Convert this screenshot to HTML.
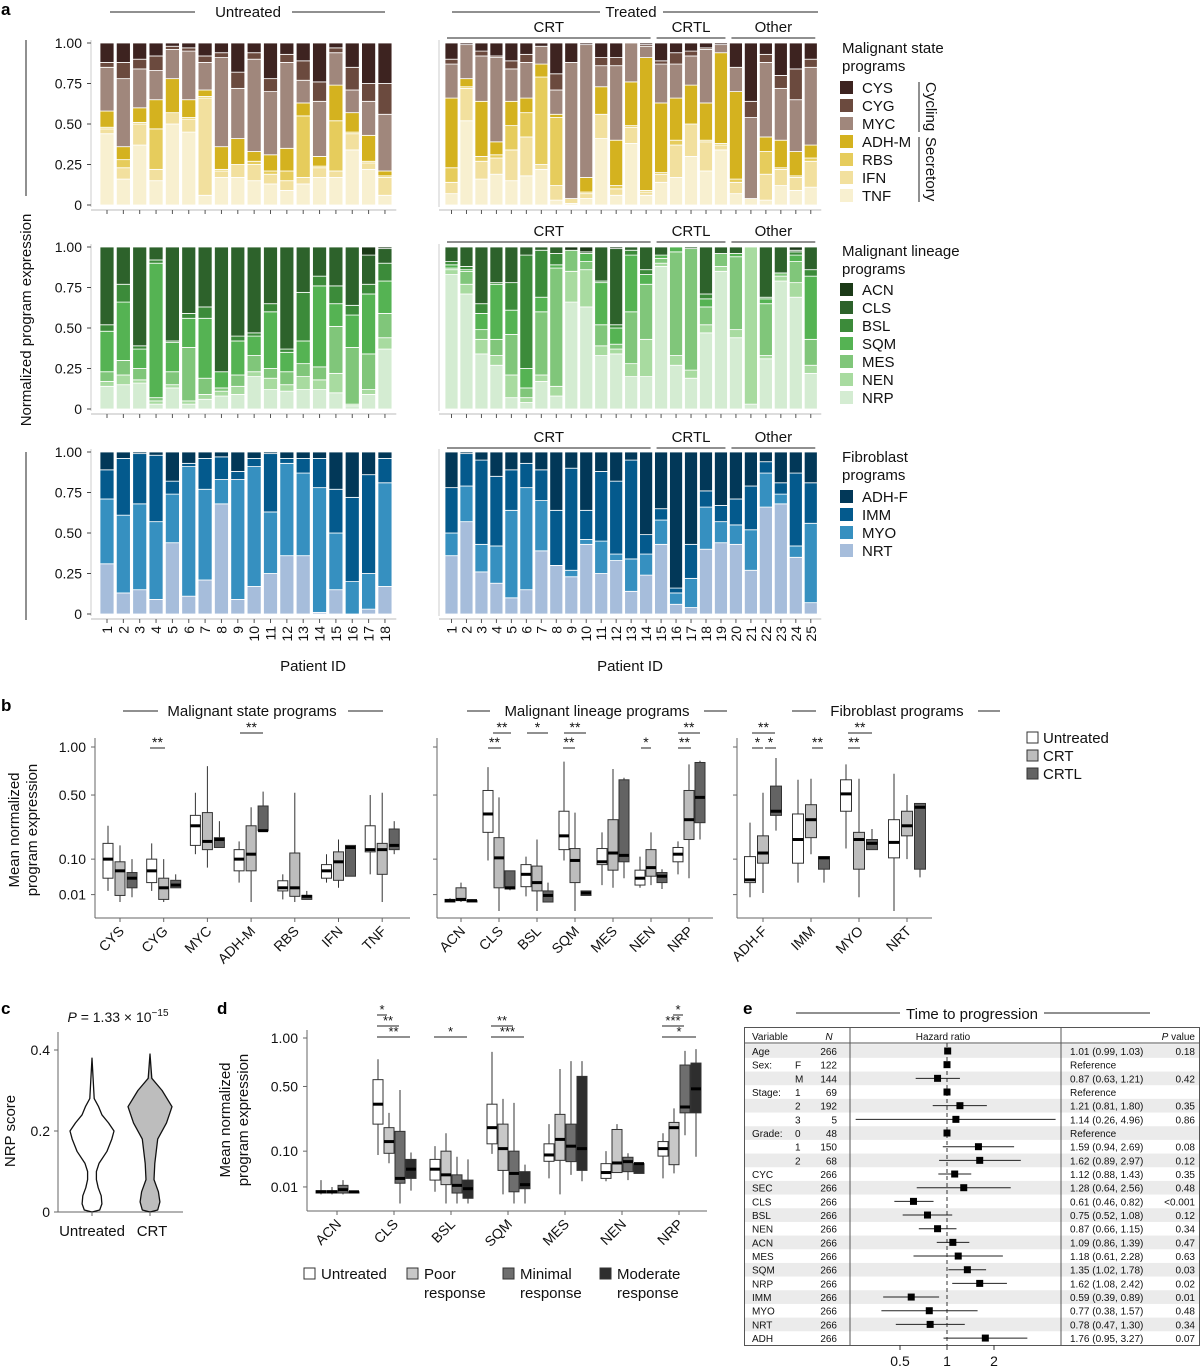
<!DOCTYPE html>
<html><head><meta charset="utf-8"><title>Figure</title>
<style>
html,body{margin:0;padding:0;background:#fff;}
svg{display:block;font-family:"Liberation Sans",Arial,sans-serif;}
</style></head>
<body>
<svg id="fig" xmlns="http://www.w3.org/2000/svg" width="1200" height="1369" viewBox="0 0 1200 1369">
<rect x="0" y="0" width="1200" height="1369" fill="#fff"/>
<g font-weight="bold" font-size="17" fill="#000">
<text x="1" y="15">a</text>
<text x="1" y="711">b</text>
<text x="1" y="1014">c</text>
<text x="217" y="1014">d</text>
<text x="743" y="1014">e</text>
</g>
<g font-size="15" fill="#111" text-anchor="middle">
<text x="248" y="17">Untreated</text>
<text x="631" y="17">Treated</text>
<text x="313" y="671">Patient ID</text>
<text x="630" y="671">Patient ID</text>
<text transform="translate(31,320) rotate(-90)">Normalized program expression</text>
</g>
<g stroke="#222" stroke-width="1">
<line x1="110" y1="12" x2="195" y2="12"/><line x1="292" y1="12" x2="385" y2="12"/>
<line x1="452" y1="12" x2="600" y2="12"/><line x1="663" y1="12" x2="818" y2="12"/>
<line x1="26" y1="40" x2="26" y2="196"/><line x1="26" y1="452" x2="26" y2="620"/>
</g>
</svg>
<script>
const NS='http://www.w3.org/2000/svg';
const svg=document.getElementById('fig');
function mk(tag,attrs,name,parent){
  const e=document.createElementNS(NS,tag);
  for(const k in attrs){e.setAttribute(k,attrs[k]);}
  
  
  (parent||svg).appendChild(e);
  return e;
}
function txt(x,y,s,name,opts){
  const o=Object.assign({x:x,y:y,'font-size':13,fill:'#111'},opts||{});
  const e=mk('text',o,name);
  e.textContent=s;
  return e;
}
function line(x1,y1,x2,y2,name,opts){
  return mk('line',Object.assign({x1:x1,y1:y1,x2:x2,y2:y2,stroke:'#222','stroke-width':1},opts||{}),name);
}

/* ================= Panel a data ================= */
const stateNames=['TNF','IFN','RBS','ADH-M','MYC','CYG','CYS'];
const stateColors=['#f8f0d0','#f2e09e','#e6cc5c','#d4b21f','#a0877c','#6b4a3e','#3d2320'];
const sU_TNF=[.44,.16,.37,.15,.50,.45,.06,.17,.17,.15,.13,.09,.13,.17,.17,.34,.22,.06];
const sU_IFN=[.03,.07,.13,.07,.07,.08,.60,.04,.08,.10,.06,.06,.04,.06,.04,.10,.04,.11];
const sU_RBS=[.01,.05,.01,.25,0,.01,.01,.01,0,.02,.02,.06,.38,.01,.31,.01,.01,.01];
const sU_ADH=[.10,.08,.09,.18,.21,.11,.04,.14,.16,.06,.10,.14,.08,.06,.22,.12,.16,.03];
const sU_MYC=[.27,.42,.24,.18,.18,.30,.17,.55,.31,.57,.39,.53,.14,.34,.20,.14,.21,.35];
const sU_CYG=[.03,.10,.06,.09,.02,.02,.04,.03,.10,.04,.08,.05,.12,.12,.03,.14,.11,.19];
const sU_CYS=[.12,.12,.10,.08,.02,.03,.08,.06,.18,.06,.22,.07,.11,.24,.03,.15,.25,.25];
const sT_TNF=[.07,.52,.16,.19,.15,.18,.22,.03,.01,.04,.41,.06,.38,.06,.14,.17,.30,.21,.34,.07,.04,.03,.12,.09,.11];
const sT_IFN=[.07,.20,.11,.10,.19,.24,.03,.09,.03,.03,.15,.04,.10,.02,.05,.20,.20,.18,.03,.07,0,.16,.10,.08,.16];
const sT_RBS=[.09,.01,.03,.02,.15,.15,.54,.42,0,.01,0,.02,.01,.01,.01,.03,0,.01,.01,.02,0,.14,.01,.01,.02];
const sT_ADH=[.43,.05,.34,.08,.15,.09,.08,.02,0,.09,.17,.28,.27,.82,.43,.26,.24,.23,.56,.54,0,.09,.17,.15,.08];
const sT_MYC=[.21,.21,.28,.52,.20,.22,.11,.15,.84,.82,.13,.46,.24,.07,.24,.21,.18,.33,.05,.15,.50,.46,.32,.32,.48];
const sT_CYG=[.03,0,.03,.01,.05,.05,0,.10,0,0,.05,.05,0,.01,.02,.07,.03,.01,0,0,.10,.05,.08,.19,.05];
const sT_CYS=[.10,.01,.05,.08,.11,.07,.02,.19,.12,.01,.09,.09,0,.01,.11,.06,.05,.03,.01,.15,.36,.07,.20,.16,.10];

const linNames=['NRP','NEN','MES','SQM','BSL','CLS','ACN'];
const linColors=['#d4ecd2','#a8dba0','#80c67a','#55b353','#3c8b3a','#2d622b','#1b3a17'];
const lU_NRP=[.14,.15,.16,.03,.13,.03,.06,.08,.09,.20,.12,.11,.12,.12,.10,.02,.09,.37];
const lU_NEN=[.03,.06,.02,.02,.02,.02,.03,.03,.05,.03,.07,.04,.08,.06,.12,.01,.03,.07];
const lU_MES=[.06,.09,.07,.02,.08,.33,.10,.02,.07,.10,.06,.08,.08,.08,.29,.35,.22,.15];
const lU_SQM=[.25,.36,.12,.83,.18,.18,.37,.10,.21,.12,.35,.12,.14,.50,.14,.20,.37,.20];
const lU_BSL=[.04,.11,.02,.02,.01,.03,.07,0,.03,.02,.05,.02,.30,.06,.11,.06,.06,.11];
const lU_CLS=[.48,.23,.61,.08,.58,.41,.37,.77,.55,.53,.35,.63,.28,.18,.24,.36,.18,.09];
const lU_ACN=[0,0,0,0,0,0,0,0,0,0,0,0,0,0,0,0,.05,.01];
const lT_NRP=[.83,.71,.34,.27,.07,.04,.17,.08,.66,.63,.33,.34,.20,.20,.88,.27,.19,.47,.85,.44,.03,.31,.79,.69,.22];
const lT_NEN=[.03,.06,.09,.06,.14,.03,.04,.06,.19,.23,.06,.03,.08,.23,.02,.06,.05,.05,.03,.05,.97,.02,.03,.09,.05];
const lT_MES=[.01,.08,.06,.10,.25,.06,.39,.73,.13,.05,.13,.03,.32,.34,.03,.64,.75,.11,.08,.45,0,.32,.02,.13,.16];
const lT_SQM=[.02,.01,.10,.34,.15,.12,.09,.02,0,.05,.26,.10,.35,.06,.02,.03,0,.05,0,.02,0,.03,0,.04,.39];
const lT_BSL=[.02,.02,.06,.01,.17,.70,.29,.07,0,0,.01,.02,.03,.03,0,0,0,.03,0,0,0,.01,0,.02,.04];
const lT_CLS=[.09,.12,.35,.22,.22,.05,.02,.04,0,.01,.21,.47,.02,.14,.05,0,.01,.29,.04,.04,0,.31,.16,.01,.14];
const lT_ACN=[0,0,0,0,0,0,0,0,.02,.03,0,.01,0,0,0,0,0,0,0,0,0,0,0,.02,0];

const fibNames=['NRT','MYO','IMM','ADH-F'];
const fibColors=['#a6bddb','#3690c0','#045a8d','#023858'];
const fU_NRT=[.31,.13,.15,.09,.44,.11,.21,.68,.09,.17,.25,.36,.36,.01,.15,0,.03,.17];
const fU_MYO=[.40,.48,.53,.48,.30,.80,.56,.15,.74,.74,.38,.57,.51,.77,.35,.20,.22,.64];
const fU_IMM=[.18,.35,.31,.41,.08,.02,.19,.14,.05,.05,.36,.03,.09,.18,.27,.52,.61,.15];
const fU_ADH=[.11,.04,.01,.02,.18,.07,.04,.03,.12,.04,.01,.04,.04,.04,.23,.28,.14,.04];
const fT_NRT=[.36,.57,.26,.19,.10,.15,.39,.30,.23,.43,.25,.33,.14,.24,.43,.06,.04,.40,.44,.43,.27,.66,.68,.35,.07];
const fT_MYO=[.14,.22,.17,.23,.54,.63,.31,0,.04,.03,.20,.04,.20,.13,.15,.07,.18,.26,.13,.12,.25,.21,.06,.07,.49];
const fT_IMM=[.28,.20,.52,.43,.25,.15,.19,.34,.63,.18,.43,.45,.61,.12,.07,.03,.21,.10,.10,.16,.27,.07,.07,.45,.25];
const fT_ADH=[.22,.01,.05,.15,.11,.07,.11,.36,.10,.36,.12,.18,.05,.51,.35,.84,.57,.24,.33,.29,.21,.06,.19,.13,.19];

const aTickVals=[0,0.25,0.5,0.75,1];
const aTickLabels=['0','0.25','0.50','0.75','1.00'];
const treatGroups=['CRT','CRTL','Other'];
const treatGroupStart=[1,15,20];
const treatGroupEnd=[14,19,25];

function drawStackPanel(series,colors,names,cfg,tag){
  const n=series[0].length;
  const yS=v=>cfg.yBot-(cfg.yBot-cfg.yTop)*v;
  line(cfg.axisX,cfg.yTop-3,cfg.axisX,cfg.yBot+2,tag+'-y-axis',{stroke:'#ccc'});
  line(cfg.axisX,cfg.yBot+5,cfg.x0+n*cfg.pitch+2,cfg.yBot+5,tag+'-x-axis',{stroke:'#bbb'});
  if(cfg.labels){
    aTickVals.forEach((v,i)=>{
      line(cfg.axisX-4,yS(v),cfg.axisX,yS(v),tag+'-y-tick',{stroke:'#444'});
      txt(cfg.axisX-9,yS(v)+5,aTickLabels[i],tag+'-y-tick-label',{'text-anchor':'end','font-size':14});
    });
  }
  for(let i=0;i<n;i++){
    const x=cfg.x0+i*cfg.pitch;
    let cum=0;
    for(let s=0;s<series.length;s++){
      const v=series[s][i];
      if(v<=0){continue;}
      const y1=yS(Math.min(1,cum+v)), y0=yS(Math.min(1,cum));
      mk('rect',{x:x,y:y1,width:cfg.w,height:Math.max(0,y0-y1),fill:colors[s],stroke:'#fff','stroke-width':0.8},tag+'-bar-'+names[s]);
      cum+=v;
    }
    if(cum<1){
      mk('rect',{x:x,y:yS(1),width:cfg.w,height:yS(cum)-yS(1),fill:colors[series.length-1],stroke:'#fff','stroke-width':0.8},tag+'-bar-top');
    }
    line(x+cfg.w/2,cfg.yBot+5,x+cfg.w/2,cfg.yBot+9,tag+'-x-tick',{stroke:'#555'});
  }
}
const leftCfg=(t,b)=>({x0:100,pitch:16.35,w:14,yTop:t,yBot:b,axisX:91,labels:true});
const rightCfg=(t,b)=>({x0:445,pitch:14.97,w:13,yTop:t,yBot:b,axisX:439,labels:false});
drawStackPanel([sU_TNF,sU_IFN,sU_RBS,sU_ADH,sU_MYC,sU_CYG,sU_CYS],stateColors,stateNames,leftCfg(43,205),'state-untreated');
drawStackPanel([sT_TNF,sT_IFN,sT_RBS,sT_ADH,sT_MYC,sT_CYG,sT_CYS],stateColors,stateNames,rightCfg(43,205),'state-treated');
drawStackPanel([lU_NRP,lU_NEN,lU_MES,lU_SQM,lU_BSL,lU_CLS,lU_ACN],linColors,linNames,leftCfg(247,409),'lineage-untreated');
drawStackPanel([lT_NRP,lT_NEN,lT_MES,lT_SQM,lT_BSL,lT_CLS,lT_ACN],linColors,linNames,rightCfg(247,409),'lineage-treated');
drawStackPanel([fU_NRT,fU_MYO,fU_IMM,fU_ADH],fibColors,fibNames,leftCfg(452,614),'fibro-untreated');
drawStackPanel([fT_NRT,fT_MYO,fT_IMM,fT_ADH],fibColors,fibNames,rightCfg(452,614),'fibro-treated');

[38,242,448].forEach(ly=>{
  treatGroups.forEach((g,i)=>{
    const xa=445+(treatGroupStart[i]-1)*14.97+2, xb=445+(treatGroupEnd[i]-1)*14.97+11;
    line(xa,ly,xb,ly,'group-bracket-'+g,{stroke:'#222'});
    txt((xa+xb)/2,ly-6,g,'group-label-'+g,{'text-anchor':'middle','font-size':15});
  });
});
for(let i=0;i<18;i++){
  const x=100+i*16.35+7;
  txt(0,0,String(i+1),'patient-id-label',{transform:'translate('+(x+5)+',626) rotate(-90)','text-anchor':'end','font-size':14});
}
for(let i=0;i<25;i++){
  const x=445+i*14.97+6.5;
  txt(0,0,String(i+1),'patient-id-label',{transform:'translate('+(x+5)+',626) rotate(-90)','text-anchor':'end','font-size':14});
}
function legend(title1,title2,ty,names,colors,y0,tag){
  txt(842,ty,title1,tag+'-title',{'font-size':15});
  txt(842,ty+18,title2,tag+'-title',{'font-size':15});
  for(let i=names.length-1,k=0;i>=0;i--,k++){
    const y=y0+k*18;
    mk('rect',{x:840,y:y-7,width:13,height:13,fill:colors[i]},tag+'-swatch-'+names[i]);
    txt(862,y+5,names[i],tag+'-entry-'+names[i],{'font-size':15});
  }
}
legend('Malignant state','programs',53,stateNames,stateColors,88,'state-legend');
legend('Malignant lineage','programs',256,linNames,linColors,290,'lineage-legend');
legend('Fibroblast','programs',462,fibNames,fibColors,497,'fibro-legend');
line(919,82,919,132,'cycling-bracket');
line(919,137,919,202,'secretory-bracket');
txt(0,0,'Cycling','cycling-label',{transform:'translate(926,82) rotate(90)','font-size':15});
txt(0,0,'Secretory','secretory-label',{transform:'translate(926,137) rotate(90)','font-size':15});

/* ================= Panel b ================= */
const bStateCats=['CYS','CYG','MYC','ADH-M','RBS','IFN','TNF'];
const bStateU=[[.04,.10,.17,.015,.27],[.03,.06,.10,.015,.17],[.16,.27,.34,.12,.52],[.06,.10,.14,.03,.18],[.015,.02,.034,.005,.05],[.04,.06,.08,.03,.12],[.13,.14,.27,.05,.50]];
const bStateCRT=[[.009,.06,.09,.003,.16],[.005,.02,.04,.003,.10],[.14,.18,.36,.07,.78],[.06,.12,.27,.003,.40],[.008,.02,.125,.003,.52],[.035,.09,.13,.02,.19],[.05,.14,.17,.003,.52]];
const bStateCRTL=[[.02,.04,.055,.007,.10],[.02,.025,.035,.02,.05],[.15,.19,.20,.15,.30],[.24,.24,.41,.24,.53],[.005,.008,.009,.005,.015],[.045,.15,.16,.045,.16],[.14,.16,.25,.12,.30]];
const bLinCats=['ACN','CLS','BSL','SQM','MES','NEN','NRP'];
const bLinU=[[.003,.004,.005,.003,.006],[.23,.35,.54,.095,.77],[.022,.05,.08,.008,.11],[.14,.21,.37,.095,.83],[.08,.09,.145,.025,.23],[.025,.04,.062,.02,.11],[.09,.12,.15,.05,.18]];
const bLinCRT=[[.004,.005,.02,.003,.03],[.02,.105,.20,0,.48],[.015,.03,.075,0,.19],[.03,.095,.145,0,.36],[.062,.125,.31,.02,.75],[.045,.07,.14,.025,.23],[.19,.31,.54,.04,.8]];
const bLinCRTL=[[.003,.004,.004,.003,.005],[.018,.02,.06,.016,.06],[.003,.009,.015,.003,.03],[.009,.012,.015,.009,.015],[.09,.115,.64,.04,.66],[.03,.045,.055,.018,.065],[.29,.48,.82,.19,.84]];
const bFibCats=['ADH-F','IMM','MYO','NRT'];
const bFibU=[[.03,.036,.11,.007,.29],[.085,.19,.35,.03,.64],[.37,.51,.64,.145,.8],[.105,.175,.31,0,.7]];
const bFibCRT=[[.085,.125,.21,.012,.52],[.2,.31,.42,.12,.65],[.065,.19,.23,.007,.65],[.21,.27,.37,.1,.5]];
const bFibCRTL=[[.34,.37,.58,.24,.87],[.065,.105,.11,.03,.11],[.14,.17,.19,.14,.25],[.065,.40,.43,.042,.43]];
const bTickVals=[1.0,0.5,0.1,0.01];
const bTickLabels=['1.00','0.50','0.10','0.01'];
const yB=v=>747+(1-Math.sqrt(v))*164;
const yD=v=>1038+(1-Math.sqrt(v))*165.5;

function drawBox(st,cx,w,fill,yf,name){
  line(cx,yf(st[3]),cx,yf(st[4]),name+'-whisker',{stroke:'#333'});
  const t=yf(st[2]),b=yf(st[0]);
  mk('rect',{x:cx-w/2,y:t,width:w,height:Math.max(1,b-t),fill:fill,stroke:'#333','stroke-width':1},name+'-box');
  line(cx-w/2,yf(st[1]),cx+w/2,yf(st[1]),name+'-median',{stroke:'#000','stroke-width':3});
}
function boxPanel(cfg){
  line(cfg.x0,cfg.yTop,cfg.x0,cfg.yBot,cfg.tag+'-y-axis',{stroke:'#666'});
  line(cfg.x0,cfg.yBot,cfg.x1,cfg.yBot,cfg.tag+'-x-axis',{stroke:'#666'});
  cfg.ticks.forEach((v,i)=>{
    line(cfg.x0-4,cfg.yf(v),cfg.x0,cfg.yf(v),cfg.tag+'-y-tick',{stroke:'#666'});
    if(cfg.labels){txt(cfg.x0-9,cfg.yf(v)+5,cfg.labels[i],cfg.tag+'-y-tick-label',{'text-anchor':'end','font-size':14});}
  });
  cfg.cats.forEach((c,i)=>{
    const cx=cfg.cx0+i*cfg.step;
    line(cx,cfg.yBot,cx,cfg.yBot+4,cfg.tag+'-x-tick',{stroke:'#666'});
    cfg.groups.forEach((g,j)=>{drawBox(g[i],cx+cfg.offs[j],cfg.w,cfg.fills[j],cfg.yf,cfg.tag+'-'+c+'-'+cfg.gnames[j]);});
    txt(0,0,c,cfg.tag+'-category-label',{transform:'translate('+(cx+5)+','+(cfg.yBot+14)+') rotate(-45)','text-anchor':'end','font-size':14});
  });
}
const bFills=['#fff','#bdbdbd','#636363'];
const bGN=['untreated','crt','crtl'];
boxPanel({tag:'b-state',x0:95,x1:410,yTop:738,yBot:918,yf:yB,ticks:bTickVals,labels:bTickLabels,cats:bStateCats,cx0:120,step:43.7,offs:[-12,0,12],w:10,groups:[bStateU,bStateCRT,bStateCRTL],fills:bFills,gnames:bGN});
boxPanel({tag:'b-lineage',x0:437,x1:713,yTop:738,yBot:918,yf:yB,ticks:bTickVals,cats:bLinCats,cx0:461,step:38,offs:[-11,0,11],w:10,groups:[bLinU,bLinCRT,bLinCRTL],fills:bFills,gnames:bGN});
boxPanel({tag:'b-fibro',x0:737,x1:932,yTop:738,yBot:918,yf:yB,ticks:bTickVals,cats:bFibCats,cx0:763,step:48,offs:[-13,0,13],w:11,groups:[bFibU,bFibCRT,bFibCRTL],fills:bFills,gnames:bGN});
txt(0,0,'Mean normalized','b-y-axis-title',{transform:'translate(19,830) rotate(-90)','text-anchor':'middle','font-size':15});
txt(0,0,'program expression','b-y-axis-title',{transform:'translate(37,830) rotate(-90)','text-anchor':'middle','font-size':15});
[['Malignant state programs',252,123,158,348,383],['Malignant lineage programs',597,467,490,704,727],['Fibroblast programs',897,792,816,978,1000]].forEach(a=>{
  txt(a[1],716,a[0],'b-section-title',{'text-anchor':'middle','font-size':15});
  line(a[2],711,a[3],711,'b-section-line');line(a[4],711,a[5],711,'b-section-line');
});
const bSigX1=[150,240,493,488,527,564,563,641,678,678,752,752,765,812,848,848];
const bSigX2=[165,263,511,501,548,586,575,651,700,691,775,763,776,823,872,860];
const bSigY=[748,733,733,748,733,733,748,748,733,748,733,748,748,748,733,748];
const bSigT=['**','**','**','**','*','**','**','*','**','**','**','*','*','**','**','**'];
bSigT.forEach((s,i)=>{
  line(bSigX1[i],bSigY[i],bSigX2[i],bSigY[i],'b-significance-bar');
  txt((bSigX1[i]+bSigX2[i])/2,bSigY[i]-1,s,'b-significance-stars',{'text-anchor':'middle','font-size':14});
});
['Untreated','CRT','CRTL'].forEach((s,i)=>{
  mk('rect',{x:1027,y:732+i*18,width:11,height:11,fill:bFills[i],stroke:'#333'},'b-legend-swatch-'+s);
  txt(1043,743+i*18,s,'b-legend-entry-'+s,{'font-size':15});
});

/* ================= Panel c ================= */
const cUy=[0,.005,.02,.04,.06,.08,.10,.12,.15,.18,.20,.22,.24,.26,.28,.33,.38];
const cUd=[0,.35,.45,.42,.28,.2,.2,.32,.68,.9,1,.75,.45,.3,.1,.05,0];
const cCy=[0,.005,.025,.05,.08,.12,.18,.22,.26,.30,.33,.39];
const cCd=[0,.35,.45,.38,.18,.22,.35,.75,1,.55,.08,0];
const cTickVals=[0,0.2,0.4];
const cTickLabels=['0','0.2','0.4'];
const yC=v=>1212-v*405;
line(58,1032,58,1212,'c-y-axis',{stroke:'#666'});
line(58,1212,183,1212,'c-x-axis',{stroke:'#666'});
cTickVals.forEach((v,i)=>{line(54,yC(v),58,yC(v),'c-y-tick',{stroke:'#666'});txt(50,yC(v)+5,cTickLabels[i],'c-y-tick-label',{'text-anchor':'end','font-size':14});});
function violin(ys,ds,cx,fill,name){
  let p='';
  ys.forEach((y,i)=>{p+=(i?'L':'M')+(cx+ds[i]*22).toFixed(1)+','+yC(y).toFixed(1);});
  for(let i=ys.length-1;i>=0;i--){p+='L'+(cx-ds[i]*22).toFixed(1)+','+yC(ys[i]).toFixed(1);}
  mk('path',{d:p+'Z',fill:fill,stroke:'#111','stroke-width':1.3,'stroke-linejoin':'round'},name);
  line(cx,1212,cx,1216,'c-x-tick',{stroke:'#666'});
}
violin(cUy,cUd,92,'#fff','c-violin-untreated');
violin(cCy,cCd,150,'#bdbdbd','c-violin-crt');
txt(92,1236,'Untreated','c-x-label-untreated',{'text-anchor':'middle','font-size':15});
txt(152,1236,'CRT','c-x-label-crt',{'text-anchor':'middle','font-size':15});
txt(0,0,'NRP score','c-y-axis-title',{transform:'translate(15,1131) rotate(-90)','text-anchor':'middle','font-size':15});
const pt=txt(118,1022,'','c-p-value',{'text-anchor':'middle','font-size':14});
pt.innerHTML='<tspan font-style="italic">P</tspan> = 1.33 × 10<tspan dy="-6" font-size="10">−15</tspan>';

/* ================= Panel d ================= */
const dCats=['ACN','CLS','BSL','SQM','MES','NEN','NRP'];
const dU=[[.004,.005,.006,.003,.02],[.23,.36,.56,.086,.76],[.02,.043,.071,.005,.12],[.13,.21,.36,.09,.84],[.065,.086,.13,.023,.23],[.023,.035,.058,.018,.1],[.082,.11,.14,.023,.18]];
const dPoor=[[.004,.005,.006,.003,.01],[.092,.14,.21,.059,.30],[.013,.03,.10,0,.18],[.04,.11,.23,.003,.40],[.068,.15,.29,.003,.66],[.035,.06,.20,.035,.23],[.055,.21,.24,.033,.33]];
const dMin=[[.004,.007,.012,.003,.02],[.015,.023,.19,0,.47],[.004,.012,.03,0,.08],[.005,.033,.10,0,.37],[.064,.12,.23,.03,.74],[.037,.064,.078,.02,.092],[.30,.34,.70,.17,.85]];
const dMod=[[.004,.005,.005,.004,.005],[.023,.043,.071,.006,.095],[.001,.008,.02,0,.071],[.008,.013,.037,0,.055],[.04,.11,.59,.018,.74],[.033,.058,.058,.033,.058],[.30,.48,.72,.08,.87]];
const dFills=['#fff','#c8c8c8','#6e6e6e','#2e2e2e'];
boxPanel({tag:'d',x0:307,x1:707,yTop:1030,yBot:1211,yf:yD,ticks:bTickVals,labels:bTickLabels,cats:dCats,cx0:337,step:57,offs:[-16,-5,6,17],w:10,groups:[dU,dPoor,dMin,dMod],fills:dFills,gnames:['untreated','poor','minimal','moderate']});
txt(0,0,'Mean normalized','d-y-axis-title',{transform:'translate(230,1120) rotate(-90)','text-anchor':'middle','font-size':15});
txt(0,0,'program expression','d-y-axis-title',{transform:'translate(248,1120) rotate(-90)','text-anchor':'middle','font-size':15});
const dSigX1=[377,377,377,434,491,491,673,662,662];
const dSigX2=[387,399,410,467,513,524,683,684,696];
const dSigY=[1015,1026,1037,1037,1026,1037,1015,1026,1037];
const dSigT=['*','**','**','*','**','***','*','***','*'];
dSigT.forEach((s,i)=>{
  line(dSigX1[i],dSigY[i],dSigX2[i],dSigY[i],'d-significance-bar');
  txt((dSigX1[i]+dSigX2[i])/2,dSigY[i]-1,s,'d-significance-stars',{'text-anchor':'middle','font-size':13});
});
const dLegX=[304,407,503,600];
const dLeg1=['Untreated','Poor','Minimal','Moderate'];
const dLeg2=['','response','response','response'];
dLeg1.forEach((s,i)=>{
  mk('rect',{x:dLegX[i],y:1268,width:11,height:11,fill:dFills[i],stroke:'#333'},'d-legend-swatch-'+s);
  txt(dLegX[i]+17,1279,s,'d-legend-entry',{'font-size':15});
  if(dLeg2[i]){txt(dLegX[i]+17,1298,dLeg2[i],'d-legend-entry',{'font-size':15});}
});

/* ================= Panel e ================= */
const eVar=['Age','Sex:','','Stage:','','','Grade:','','','CYC','SEC','CLS','BSL','NEN','ACN','MES','SQM','NRP','IMM','MYO','NRT','ADH'];
const eLvl=['','F','M','1','2','3','0','1','2','','','','','','','','','','','','',''];
const eN=[266,122,144,69,192,5,48,150,68,266,266,266,266,266,266,266,266,266,266,266,266,266];
const eHR=[1.01,1,0.87,1,1.21,1.14,1,1.59,1.62,1.12,1.28,0.61,0.75,0.87,1.09,1.18,1.35,1.62,0.59,0.77,0.78,1.76];
const eLo=[0.99,1,0.63,1,0.81,0.26,1,0.94,0.89,0.88,0.64,0.46,0.52,0.66,0.86,0.61,1.02,1.08,0.39,0.38,0.47,0.95];
const eHi=[1.03,1,1.21,1,1.80,4.96,1,2.69,2.97,1.43,2.56,0.82,1.08,1.15,1.39,2.28,1.78,2.42,0.89,1.57,1.30,3.27];
const eP=['0.18','','0.42','','0.35','0.86','','0.08','0.12','0.35','0.48','<0.001','0.12','0.34','0.47','0.63','0.03','0.02','0.01','0.48','0.34','0.07'];
const eRef=[false,true,false,true,false,false,true,false,false,false,false,false,false,false,false,false,false,false,false,false,false,false];
const eXTicks=[0.5,1,2];
const eXLabels=['0.5','1','2'];
const xE=v=>947+Math.log2(v)*47;
const rowY=i=>1051+i*13.67;
txt(972,1019,'Time to progression','e-title',{'text-anchor':'middle','font-size':15});
line(796,1013,900,1013,'e-title-line');line(1044,1013,1150,1013,'e-title-line');
eVar.forEach((v,i)=>{
  if(i%2===0){mk('rect',{x:745,y:rowY(i)-6.8,width:454,height:13.67,fill:'#ebebeb'},'e-row-shade');}
});
mk('rect',{x:744.5,y:1027.5,width:455,height:318,fill:'none',stroke:'#555'},'e-table-border');
line(745,1043,1199,1043,'e-header-line',{stroke:'#555'});
line(850,1027,850,1345,'e-col-divider',{stroke:'#555'});
line(1061,1027,1061,1345,'e-col-divider',{stroke:'#555'});
txt(752,1040,'Variable','e-header-variable',{'font-size':10});
txt(829,1040,'N','e-header-n',{'font-size':10,'font-style':'italic','text-anchor':'middle'});
txt(943,1040,'Hazard ratio','e-header-hr',{'font-size':10,'text-anchor':'middle'});
const ph=txt(1195,1040,'','e-header-p',{'font-size':10,'text-anchor':'end'});
ph.innerHTML='<tspan font-style="italic">P</tspan> value';
line(947,1043,947,1345,'e-reference-line',{stroke:'#333','stroke-dasharray':'4,3'});
eVar.forEach((v,i)=>{
  const y=rowY(i)+4;
  if(v){txt(752,y,v,'e-variable-label',{'font-size':10});}
  if(eLvl[i]){txt(795,y,eLvl[i],'e-level-label',{'font-size':10});}
  txt(837,y,String(eN[i]),'e-n-value',{'font-size':10,'text-anchor':'end'});
  if(!eRef[i]){line(xE(eLo[i]),rowY(i),xE(eHi[i]),rowY(i),'e-ci-line',{stroke:'#222'});}
  mk('rect',{x:xE(eHR[i])-3.5,y:rowY(i)-3.5,width:7,height:7,fill:'#000'},'e-hr-marker');
  if(eRef[i]){txt(1070,y,'Reference','e-reference-text',{'font-size':10});}
  else{txt(1070,y,eHR[i].toFixed(2)+' ('+eLo[i].toFixed(2)+', '+eHi[i].toFixed(2)+')','e-hr-text',{'font-size':10});
       txt(1195,y,eP[i],'e-p-value',{'font-size':10,'text-anchor':'end'});}
});
eXTicks.forEach((v,i)=>{
  line(xE(v),1345,xE(v),1350,'e-x-tick',{stroke:'#333'});
  txt(xE(v),1366,eXLabels[i],'e-x-tick-label',{'text-anchor':'middle','font-size':14});
});
</script>
</body></html>
